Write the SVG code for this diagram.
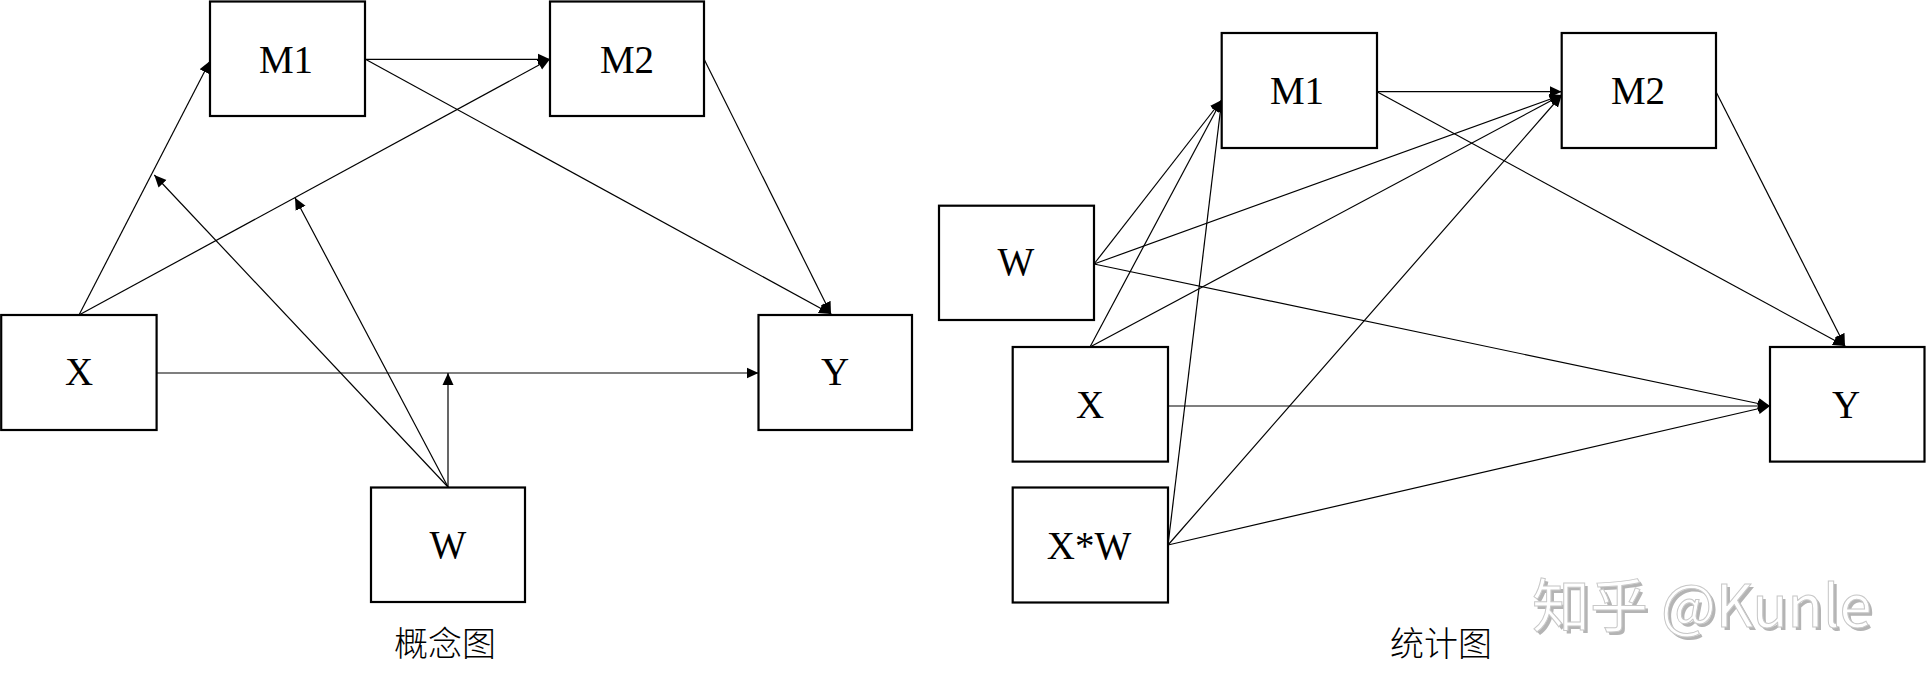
<svg xmlns="http://www.w3.org/2000/svg" width="1926" height="686" viewBox="0 0 1926 686">
<style>
.box{fill:#fff;stroke:#000;stroke-width:2.2}
.lbl{font-family:"Liberation Serif","Times New Roman",serif;font-size:39px;fill:#000;text-anchor:middle}
.cap{font-family:"Liberation Serif","Noto Sans CJK SC",serif;font-size:34px;font-weight:300;fill:#000;text-anchor:middle}
.ln{stroke:#000;stroke-width:1.2;fill:none;marker-end:url(#ah)}
.wm{font-family:"Noto Sans CJK SC","Noto Sans",sans-serif;font-size:58px}
</style>
<defs>
<marker id="ah" markerUnits="userSpaceOnUse" markerWidth="12" markerHeight="12" refX="12" refY="6" orient="auto" viewBox="0 0 12 12">
<path d="M0,0.5 L12,6 L0,11.5 z" fill="#000"/>
</marker>
</defs>
<rect width="1926" height="686" fill="#fff"/>
<g id="connectors">
<line class="ln" x1="79" y1="315" x2="210" y2="61"/>
<line class="ln" x1="79" y1="315" x2="550" y2="59"/>
<line class="ln" x1="365" y1="59.3" x2="550" y2="59.3"/>
<line class="ln" x1="365" y1="59" x2="831" y2="314"/>
<line class="ln" x1="704" y1="59" x2="831" y2="314"/>
<line class="ln" x1="156.6" y1="373" x2="758.5" y2="373"/>
<line class="ln" x1="448" y1="487" x2="448" y2="373"/>
<line class="ln" x1="448" y1="487" x2="154.3" y2="175"/>
<line class="ln" x1="448" y1="487" x2="295" y2="197.7"/>
<line class="ln" x1="1094" y1="264" x2="1221.7" y2="100"/>
<line class="ln" x1="1090" y1="347" x2="1221.7" y2="100"/>
<line class="ln" x1="1168" y1="545" x2="1221.7" y2="100"/>
<line class="ln" x1="1377" y1="91.7" x2="1561.7" y2="91.7"/>
<line class="ln" x1="1094" y1="264" x2="1561.7" y2="95"/>
<line class="ln" x1="1090" y1="347" x2="1561.7" y2="95"/>
<line class="ln" x1="1168" y1="545" x2="1561.7" y2="95"/>
<line class="ln" x1="1377" y1="91.7" x2="1845" y2="346"/>
<line class="ln" x1="1716" y1="91.7" x2="1845" y2="346"/>
<line class="ln" x1="1094" y1="264" x2="1770" y2="406"/>
<line class="ln" x1="1168" y1="406" x2="1770" y2="406"/>
<line class="ln" x1="1168" y1="545" x2="1770" y2="406"/>
</g>
<g id="L_M1"><rect class="box" x="210" y="1.5" width="155" height="114.5"/><text class="lbl" x="286" y="72.5">M1</text></g>
<g id="L_M2"><rect class="box" x="550" y="1.5" width="154" height="114.5"/><text class="lbl" x="627" y="72.5">M2</text></g>
<g id="L_X"><rect class="box" x="1.2" y="315" width="155.4" height="115"/><text class="lbl" x="79" y="385">X</text></g>
<g id="L_Y"><rect class="box" x="758.5" y="315" width="153.5" height="115"/><text class="lbl" x="835" y="385">Y</text></g>
<g id="L_W"><rect class="box" x="371" y="487.5" width="154" height="114.5"/><text class="lbl" x="448" y="558">W</text></g>
<text id="cap_left" class="cap" x="445" y="656">概念图</text>
<g id="R_M1"><rect class="box" x="1221.7" y="33" width="155.3" height="115"/><text class="lbl" x="1297" y="104">M1</text></g>
<g id="R_M2"><rect class="box" x="1561.7" y="33" width="154.3" height="115"/><text class="lbl" x="1638" y="104">M2</text></g>
<g id="R_W"><rect class="box" x="939" y="205.7" width="155" height="114.3"/><text class="lbl" x="1016" y="275">W</text></g>
<g id="R_X"><rect class="box" x="1012.7" y="347" width="155.3" height="114.6"/><text class="lbl" x="1090" y="418">X</text></g>
<g id="R_XW"><rect class="box" x="1012.7" y="487.5" width="155.3" height="115"/><text class="lbl" x="1089" y="559">X*W</text></g>
<g id="R_Y"><rect class="box" x="1770" y="347" width="154.5" height="114.6"/><text class="lbl" x="1846" y="418">Y</text></g>
<text id="cap_right" class="cap" x="1441" y="656">统计图</text>
<g id="watermark">
<text class="wm" x="1535" y="630" fill="#b4b4b4">知乎 @Kunle</text>
<text class="wm" x="1532" y="627" fill="#fff" stroke="#c8c8c8" stroke-width="1">知乎 @Kunle</text>
</g>
</svg>
